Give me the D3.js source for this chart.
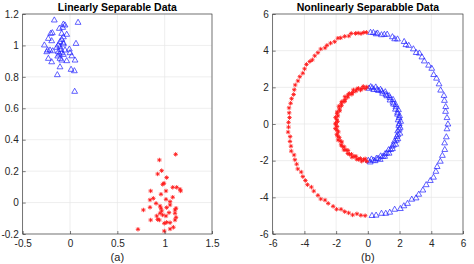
<!DOCTYPE html>
<html>
<head>
<meta charset="utf-8">
<script src="https://cdn.jsdelivr.net/npm/d3@7"></script>
<style>
  body { margin: 0; background: #fff; }
  svg { display: block; font-family: "Liberation Sans", Arial, sans-serif; }
</style>
</head>
<body>
<svg id="chart"></svg>
<script>
// ---- data ----
// (a) linearly separable
const linBlue = [
  [-0.166,1.162],[0.085,1.147],[-0.07,1.136],[-0.053,1.13],[-0.077,1.115],[-0.113,1.109],
  [-0.187,1.081],[-0.204,1.077],[-0.088,1.077],[-0.035,1.071],[-0.07,1.055],[-0.229,1.045],
  [-0.088,1.039],[-0.194,1.03],[-0.106,1.024],[-0.07,1.017],[0.063,1.013],[-0.271,1.003],
  [-0.123,1.003],[-0.07,1.009],[-0.106,0.992],[-0.141,0.988],[-0.099,0.975],[-0.211,0.971],
  [-0.236,0.971],[-0.007,0.977],[-0.053,0.971],[-0.183,0.966],[-0.246,0.96],[-0.123,0.96],
  [-0.088,0.954],[0.0,0.954],[-0.113,0.945],[-0.07,0.943],[0.018,0.934],[-0.13,0.933],
  [-0.229,0.918],[-0.106,0.918],[-0.088,0.907],[-0.035,0.903],[0.053,0.907],[-0.194,0.896],
  [-0.106,0.864],[0.011,0.848],[0.046,0.839],[-0.134,0.814],[0.049,0.708]
];
const linRed = [
  [1.116,0.307],[0.944,0.271],[0.968,0.203],[0.926,0.182],[1.021,0.159],[0.993,0.123],
  [0.979,0.116],[0.852,0.074],[1.014,0.074],[1.085,0.097],[1.127,0.097],[1.162,0.085],
  [1.169,0.074],[0.961,0.053],[0.88,0.027],[1.085,0.034],[0.845,0.017],[1.014,0.021],
  [1.057,0.006],[0.909,-0.005],[0.951,-0.022],[0.845,-0.03],[1.021,-0.032],[0.961,-0.036],
  [0.775,-0.047],[0.968,-0.053],[1.109,-0.047],[1.109,-0.068],[1.046,-0.064],[0.951,-0.068],
  [0.979,-0.079],[1.014,-0.085],[1.12,-0.094],[0.852,-0.111],[0.944,-0.111],[1.109,-0.111],
  [1.021,-0.126],[0.996,-0.132],[1.092,-0.157],[1.057,-0.168],[0.718,-0.17],[0.996,-0.181],
  [1.057,-0.128],[0.926,-0.107],[0.916,-0.085],[1.057,-0.015],[1.12,-0.036]
];

// (b) nonlinearly separable
const ringBlue = [
  // outer ring, right half
  [0.17,5.00],[0.35,4.99],[0.52,4.92],[0.61,4.96],[0.86,4.87],[1.04,4.89],[1.22,4.90],
  [1.55,4.76],[1.69,4.65],[1.87,4.64],[2.29,4.50],[2.40,4.33],[2.58,4.29],[2.87,4.10],
  [3.05,3.90],[3.25,3.87],[3.41,3.66],[3.56,3.44],[3.83,3.21],[4.03,3.04],[4.15,2.70],
  [4.33,2.50],[4.49,2.19],[4.59,1.85],[4.80,1.56],[4.83,1.29],[4.91,0.95],[4.90,0.69],
  [4.99,0.35],[5.05,0.00],[4.99,-0.26],[4.95,-0.70],[4.84,-1.03],[4.85,-1.39],[4.70,-1.71],
  [4.57,-2.03],[4.37,-2.32],[4.29,-2.58],[4.14,-2.90],[3.94,-3.08],[3.68,-3.31],[3.47,-3.60],
  [3.21,-3.83],[3.04,-4.03],[2.77,-4.10],[2.50,-4.33],[2.27,-4.46],[2.05,-4.61],[1.69,-4.65],
  [1.38,-4.81],[1.13,-4.87],[0.86,-4.87],[0.52,-4.97],[0.26,-4.99],
  // inner ring, right half
  [0.07,1.95],[0.18,2.04],[0.28,1.98],[0.37,1.88],[0.50,2.02],[0.58,1.89],[0.67,1.83],
  [0.80,1.89],[0.88,1.80],[0.93,1.68],[1.10,1.76],[1.14,1.62],[1.20,1.54],[1.34,1.55],
  [1.39,1.44],[1.40,1.31],[1.59,1.34],[1.58,1.19],[1.62,1.09],[1.76,1.06],[1.77,0.94],
  [1.74,0.81],[1.93,0.78],[1.87,0.64],[1.87,0.54],[2.00,0.46],[1.97,0.35],[1.91,0.23],
  [2.07,0.15],[1.98,0.03],[1.95,-0.07],[2.04,-0.18],[1.98,-0.28],[1.88,-0.37],[2.02,-0.50],
  [1.89,-0.58],[1.83,-0.67],[1.89,-0.80],[1.80,-0.88],[1.68,-0.93],[1.76,-1.10],[1.62,-1.14],
  [1.54,-1.20],[1.55,-1.34],[1.44,-1.39],[1.31,-1.40],[1.34,-1.59],[1.19,-1.58],[1.09,-1.62],
  [1.06,-1.76],[0.94,-1.77],[0.81,-1.74],[0.78,-1.93],[0.64,-1.87],[0.54,-1.87],[0.46,-2.00],
  [0.35,-1.97],[0.23,-1.91],[0.15,-2.07],[0.03,-1.98]
];
const ringRed = [
  // outer ring, left half
  [-0.09,5.00],[-0.26,4.99],[-0.43,4.93],[-0.61,4.96],[-0.78,4.94],[-1.05,4.94],[-1.20,4.80],
  [-1.46,4.78],[-1.71,4.70],[-1.89,4.68],[-2.09,4.49],[-2.35,4.41],[-2.58,4.29],[-2.70,4.15],
  [-2.97,4.09],[-3.15,3.89],[-3.35,3.72],[-3.50,3.50],[-3.66,3.41],[-3.87,3.25],[-3.99,3.01],
  [-4.10,2.77],[-4.29,2.58],[-4.41,2.35],[-4.58,2.13],[-4.64,1.87],[-4.68,1.61],[-4.81,1.38],
  [-4.87,1.13],[-4.97,0.88],[-4.96,0.61],[-4.94,0.35],[-5.00,0.09],
  [-5.00,-0.17],[-5.03,-0.44],[-4.90,-0.69],[-4.91,-0.95],[-4.85,-1.21],[-4.83,-1.48],
  [-4.65,-1.69],[-4.60,-1.95],[-4.49,-2.19],[-4.42,-2.45],[-4.20,-2.62],[-4.10,-2.87],
  [-3.94,-3.08],[-3.81,-3.31],[-3.56,-3.44],[-3.41,-3.66],[-3.15,-3.89],[-2.97,-4.09],
  [-2.70,-4.15],[-2.50,-4.33],[-2.19,-4.49],[-1.97,-4.65],[-1.69,-4.65],[-1.46,-4.78],
  [-1.21,-4.85],[-0.96,-4.96],[-0.69,-4.90],[-0.44,-4.98],[-0.17,-5.00],
  // inner ring, left half
  [-0.07,2.02],[-0.17,1.93],[-0.29,2.05],[-0.38,1.93],[-0.46,1.85],[-0.60,1.95],[-0.69,1.90],
  [-0.76,1.79],[-0.91,1.86],[-0.96,1.72],[-1.01,1.62],[-1.17,1.67],[-1.24,1.59],[-1.27,1.46],
  [-1.44,1.49],[-1.44,1.34],[-1.46,1.23],[-1.63,1.23],[-1.67,1.13],[-1.66,1.00],[-1.83,0.97],
  [-1.79,0.83],[-1.77,0.72],[-1.93,0.66],[-1.94,0.56],[-1.89,0.44],[-2.04,0.36],[-1.96,0.24],
  [-1.91,0.13],[-2.04,0.04],
  [-2.02,-0.04],[-1.94,-0.14],[-2.05,-0.25],[-1.94,-0.34],[-1.86,-0.43],[-1.96,-0.56],
  [-1.91,-0.66],[-1.80,-0.73],[-1.88,-0.87],[-1.74,-0.92],[-1.64,-0.98],[-1.69,-1.14],
  [-1.61,-1.22],[-1.49,-1.25],[-1.51,-1.41],[-1.37,-1.42],[-1.25,-1.44],[-1.26,-1.61],
  [-1.16,-1.65],[-1.03,-1.65],[-1.00,-1.81],[-0.86,-1.77],[-0.75,-1.76],[-0.70,-1.92],
  [-0.59,-1.93],[-0.47,-1.88],[-0.39,-2.03],[-0.27,-1.95],[-0.17,-1.90],[-0.07,-2.04]
];

const linXTicks = [-0.5, 0, 0.5, 1, 1.5];
const linYTicks = [-0.2, 0, 0.2, 0.4, 0.6, 0.8, 1, 1.2];
const ringTicks = [-6, -4, -2, 0, 2, 4, 6];

const W = 474, H = 264;
const svg = d3.select('#chart').attr('width', W).attr('height', H);

const triPath = 'M0,-3.1L2.9,2L-2.9,2Z';
const starPath = 'M-2.2,0L2.2,0M0,-2.2L0,2.2M-1.5,-1.5L1.5,1.5M-1.5,1.5L1.5,-1.5';

class ScatterPanel {
  constructor(config) {
    this.config = config;
    this.init();
  }

  init() {
    let self = this;
    const c = self.config;
    self.g = svg.append('g');

    self.xscale = d3.scaleLinear().domain(c.xdomain).range([c.left, c.right]);
    self.yscale = d3.scaleLinear().domain(c.ydomain).range([c.bottom, c.top]);

    // grid
    self.g.append('g')
      .selectAll('line')
      .data(c.xticks)
      .join('line')
      .attr('x1', d => self.xscale(d)).attr('x2', d => self.xscale(d))
      .attr('y1', c.top).attr('y2', c.bottom)
      .attr('stroke', '#e6e6e6').attr('stroke-width', 0.7);
    self.g.append('g')
      .selectAll('line')
      .data(c.yticks)
      .join('line')
      .attr('y1', d => self.yscale(d)).attr('y2', d => self.yscale(d))
      .attr('x1', c.left).attr('x2', c.right)
      .attr('stroke', '#e6e6e6').attr('stroke-width', 0.7);

    // points
    self.g.append('g')
      .selectAll('path')
      .data(c.blue)
      .join('path')
      .attr('transform', d => `translate(${self.xscale(d[0])},${self.yscale(d[1])})`)
      .attr('d', triPath)
      .attr('fill', 'none')
      .attr('stroke', '#2020ff')
      .attr('stroke-width', 0.7);
    self.g.append('g')
      .selectAll('path')
      .data(c.red)
      .join('path')
      .attr('transform', d => `translate(${self.xscale(d[0])},${self.yscale(d[1])})`)
      .attr('d', starPath)
      .attr('fill', 'none')
      .attr('stroke', '#ff1a1a')
      .attr('stroke-width', 0.9);

    // axes
    const fmt = d => String(d);
    const xaxis = d3.axisBottom(self.xscale).tickValues(c.xticks).tickFormat(fmt)
      .tickSizeInner(-3).tickSizeOuter(0).tickPadding(6);
    const yaxis = d3.axisLeft(self.yscale).tickValues(c.yticks).tickFormat(fmt)
      .tickSizeInner(-3).tickSizeOuter(0).tickPadding(4);
    const xg = self.g.append('g').attr('transform', `translate(0,${c.bottom})`).call(xaxis);
    const yg = self.g.append('g').attr('transform', `translate(${c.left},0)`).call(yaxis);
    [xg, yg].forEach(a => {
      a.select('.domain').remove();
      a.selectAll('line').attr('stroke', '#262626').attr('stroke-width', 0.6);
      a.selectAll('text').attr('fill', '#262626').style('font-size', '10px')
        .style('font-family', '"Liberation Sans", Arial, sans-serif');
    });

    // box
    self.g.append('rect')
      .attr('x', c.left).attr('y', c.top)
      .attr('width', c.right - c.left).attr('height', c.bottom - c.top)
      .attr('fill', 'none').attr('stroke', '#262626').attr('stroke-width', 0.6);

    // title and caption
    const cx = (c.left + c.right) / 2;
    svg.append('text')
      .attr('x', cx).attr('y', 11)
      .attr('text-anchor', 'middle')
      .style('font-size', '10.5px').style('font-weight', 'bold')
      .attr('fill', '#000')
      .text(c.title);
    svg.append('text')
      .attr('x', cx).attr('y', 261)
      .attr('text-anchor', 'middle')
      .style('font-size', '11px')
      .attr('fill', '#262626')
      .text(c.caption);
  }
}

new ScatterPanel({
  left: 22.7, right: 212, top: 14, bottom: 234,
  xdomain: [-0.5, 1.5], ydomain: [-0.2, 1.2],
  xticks: linXTicks, yticks: linYTicks,
  blue: linBlue, red: linRed,
  title: 'Linearly Separable Data', caption: '(a)'
});

new ScatterPanel({
  left: 272.7, right: 463, top: 14, bottom: 234,
  xdomain: [-6, 6], ydomain: [-6, 6],
  xticks: ringTicks, yticks: ringTicks,
  blue: ringBlue, red: ringRed,
  title: 'Nonlinearly Separabble Data', caption: '(b)'
});
</script>
</body>
</html>
